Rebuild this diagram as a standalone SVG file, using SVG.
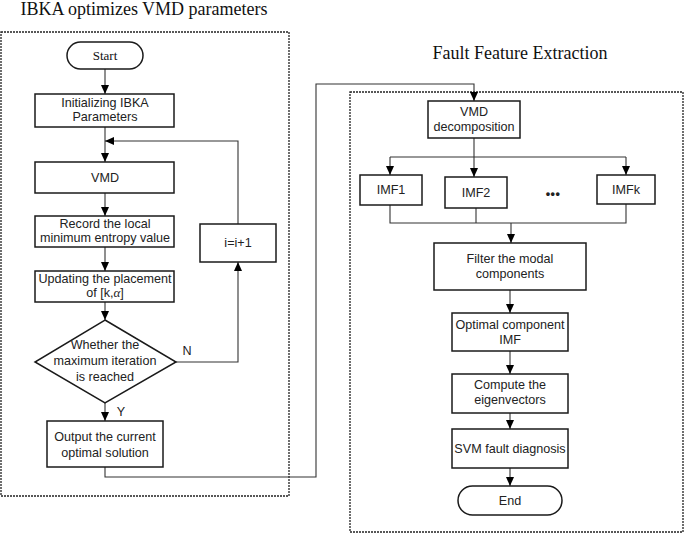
<svg xmlns="http://www.w3.org/2000/svg" width="685" height="533" viewBox="0 0 685 533">
<defs>
<marker id="ah" markerUnits="userSpaceOnUse" markerWidth="10" markerHeight="10" viewBox="0 0 10 10" refX="9" refY="5" orient="auto">
<path d="M0,1 L9,5 L0,9 Z" fill="#000"/>
</marker>
<style>
.box{fill:#fff;stroke:#1a1a1a;stroke-width:1.5}
.frame{fill:none;stroke:#222;stroke-width:1.3;stroke-dasharray:2 1}
.ln{fill:none;stroke:#333;stroke-width:1.1}
.ar{fill:none;stroke:#333;stroke-width:1.1;marker-end:url(#ah)}
.t{font-family:"Liberation Sans",Arial,sans-serif;font-size:12.6px;fill:#222;text-anchor:middle}
.s{font-family:"Liberation Serif","Times New Roman",serif;fill:#111;text-anchor:middle}
</style>
</defs>
<rect width="685" height="533" fill="#fff"/>

<text class="s" x="144" y="15" font-size="18">IBKA optimizes VMD parameters</text>
<text class="s" x="520" y="59" font-size="18">Fault Feature Extraction</text>

<rect class="frame" x="1" y="32" width="288" height="464"/>
<rect class="frame" x="350" y="92" width="333" height="440"/>

<g id="connectors">
<path class="ar" d="M105,69 V94"/>
<path class="ar" d="M105,127 V162"/>
<path class="ar" d="M238,224 V141 H105"/>
<path class="ar" d="M105,193 V216"/>
<path class="ar" d="M105,247 V271"/>
<path class="ar" d="M105,302 V320"/>
<path class="ar" d="M176,362 H238 V262"/>
<path class="ar" d="M105,403 V421"/>
<path class="ar" d="M105,467 V477 H316 V84 H474 V101"/>
<path class="ar" d="M474,138 V177"/>
<path class="ln" d="M390,157 H626"/>
<path class="ar" d="M390,157 V175"/>
<path class="ar" d="M626,157 V175"/>
<path class="ln" d="M390,205 V223 H626 V204"/>
<path class="ln" d="M476,208 V223"/>
<path class="ar" d="M511,223 V243"/>
<path class="ar" d="M510,290 V313"/>
<path class="ar" d="M510,351 V374"/>
<path class="ar" d="M510,413 V429"/>
<path class="ar" d="M510,468 V486"/>
<text class="t" x="187" y="355">N</text>
<text class="t" x="121" y="416">Y</text>
</g>

<g id="start">
<rect class="box" x="67" y="42" width="76" height="27" rx="13.5"/>
<text class="s" x="105" y="60" font-size="13">Start</text>
</g>
<g id="init">
<rect class="box" x="35" y="94" width="139" height="33"/>
<text class="t" x="105" y="107">Initializing IBKA</text>
<text class="t" x="105" y="121">Parameters</text>
</g>
<g id="vmd">
<rect class="box" x="35" y="162" width="139" height="31"/>
<text class="t" x="105" y="182">VMD</text>
</g>
<g id="record">
<rect class="box" x="35" y="216" width="139" height="31"/>
<text class="t" x="105" y="228">Record the local</text>
<text class="t" x="105" y="242">minimum entropy value</text>
</g>
<g id="update">
<rect class="box" x="35" y="271" width="139" height="31"/>
<text class="t" x="105" y="283">Updating the placement</text>
<text class="t" x="105" y="297">of [k,<tspan font-family="'Liberation Serif',serif" font-style="italic" font-size="13">α</tspan>]</text>
</g>
<g id="decision">
<polygon class="box" points="105,320 176,362 105,403 35,362"/>
<text class="t" x="105" y="349">Whether the</text>
<text class="t" x="105" y="365">maximum iteration</text>
<text class="t" x="105" y="381">is reached</text>
</g>
<g id="incr">
<rect class="box" x="200" y="224" width="76" height="38"/>
<text class="t" x="238" y="247">i=i+1</text>
</g>
<g id="output">
<rect class="box" x="47" y="421" width="116" height="46"/>
<text class="t" x="105" y="441">Output the current</text>
<text class="t" x="105" y="457">optimal solution</text>
</g>

<g id="vmddec">
<rect class="box" x="428" y="101" width="92" height="37"/>
<text class="t" x="474" y="116">VMD</text>
<text class="t" x="474" y="131">decomposition</text>
</g>
<g id="imf1">
<rect class="box" x="360" y="175" width="62" height="30"/>
<text class="t" x="391" y="194">IMF1</text>
</g>
<g id="imf2">
<rect class="box" x="445" y="177" width="62" height="31"/>
<text class="t" x="476" y="197">IMF2</text>
</g>
<g id="dots">
<text class="t" x="553" y="198" font-size="16" letter-spacing="0.5" font-weight="bold">•••</text>
</g>
<g id="imfk">
<rect class="box" x="597" y="175" width="58" height="29"/>
<text class="t" x="626" y="194">IMFk</text>
</g>
<g id="filter">
<rect class="box" x="434" y="243" width="152" height="47"/>
<text class="t" x="510" y="263">Filter the modal</text>
<text class="t" x="510" y="278">components</text>
</g>
<g id="optimal">
<rect class="box" x="452" y="313" width="116" height="38"/>
<text class="t" x="510" y="329">Optimal component</text>
<text class="t" x="510" y="344">IMF</text>
</g>
<g id="compute">
<rect class="box" x="452" y="374" width="116" height="39"/>
<text class="t" x="510" y="389">Compute the</text>
<text class="t" x="510" y="404">eigenvectors</text>
</g>
<g id="svm">
<rect class="box" x="452" y="429" width="116" height="39"/>
<text class="t" x="510" y="453">SVM fault diagnosis</text>
</g>
<g id="end">
<rect class="box" x="458" y="486" width="104" height="29" rx="14.5"/>
<text class="t" x="510" y="505">End</text>
</g>
</svg>
